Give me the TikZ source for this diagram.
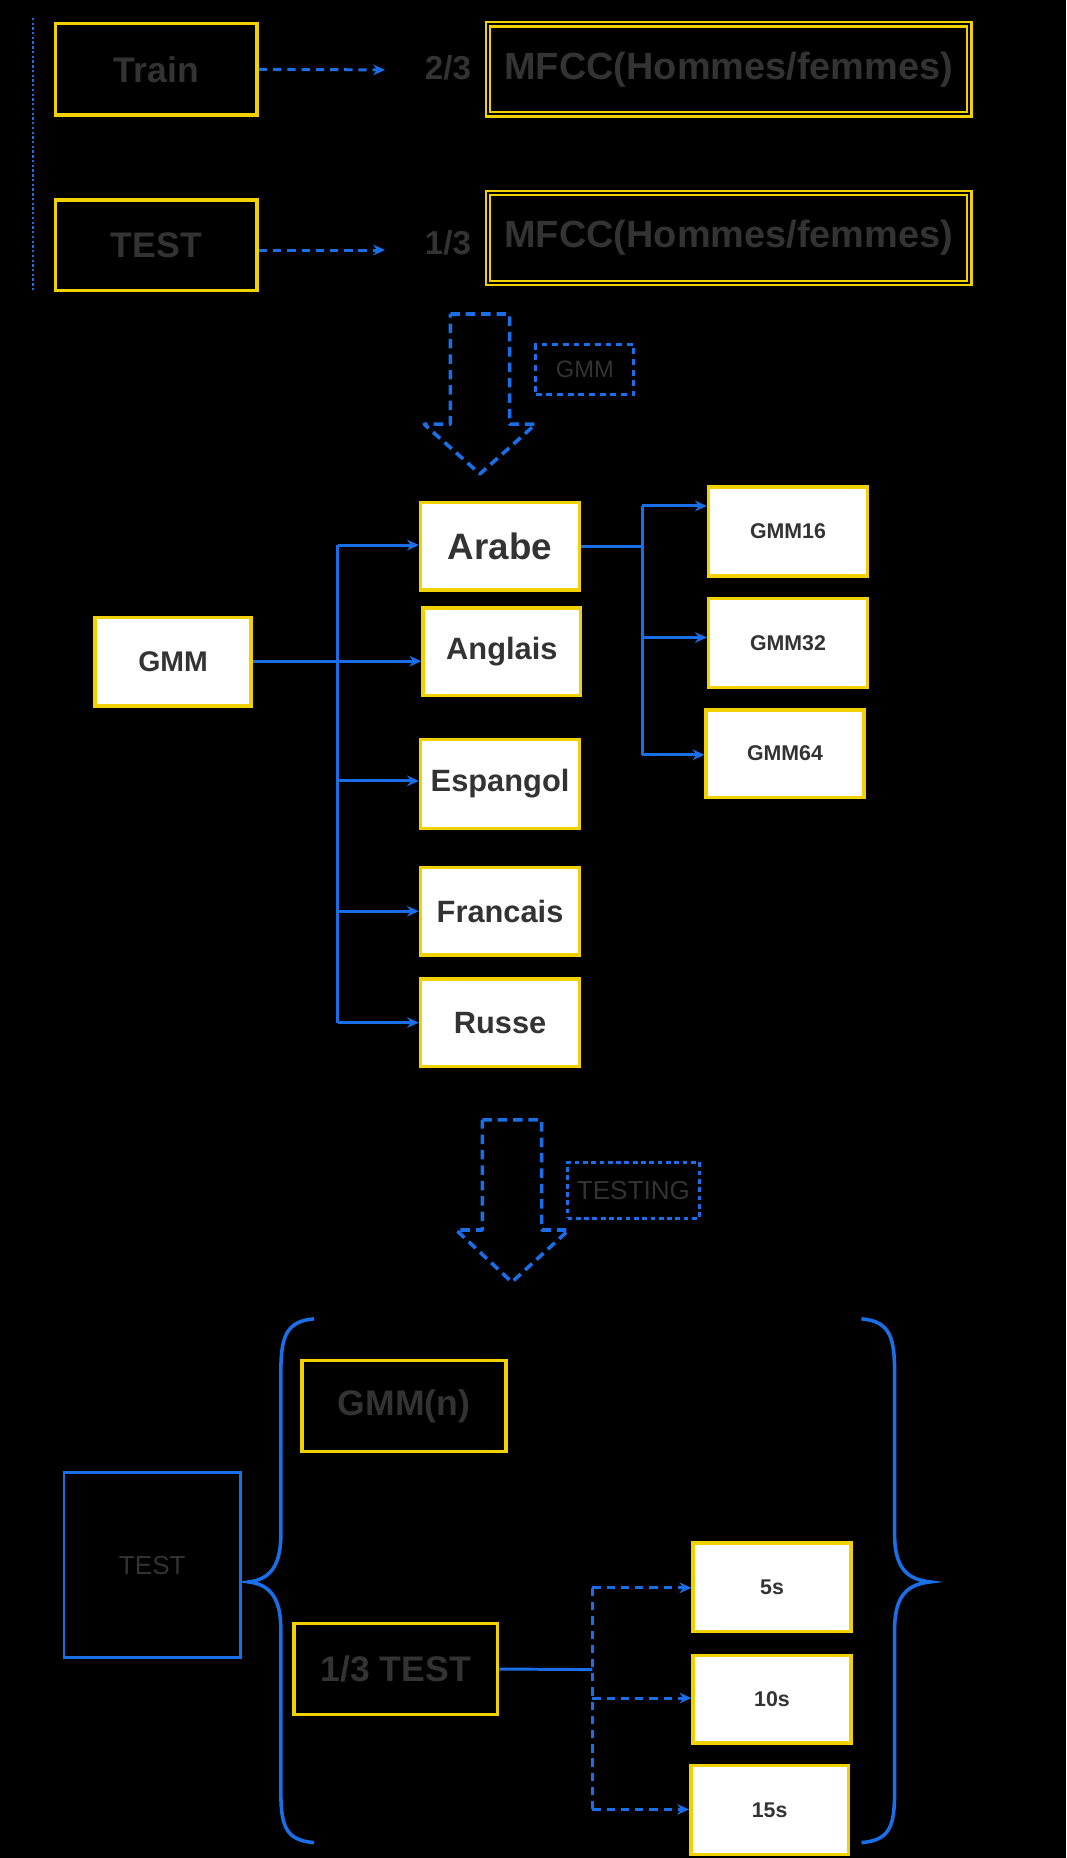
\documentclass[tikz,border=0pt]{standalone}
\usepackage{fontspec}
\setmainfont{Liberation Sans}
\usetikzlibrary{arrows.meta}
\definecolor{yel}{HTML}{F2D100}
\definecolor{blu}{HTML}{1A6FE8}
\definecolor{gry}{HTML}{333333}
\tikzset{
 fs/.style={font=\fontsize{#1}{#1}\selectfont\bfseries},
 dk/.style={draw=yel,line width=3pt,fill=black,text=gry,inner sep=0pt},
 wb/.style={draw=yel,line width=3pt,fill=white,text=gry,inner sep=0pt},
 conn/.style={draw=blu,line width=2.5pt,-{Stealth[length=10pt,width=9pt]}},
 dconn/.style={conn,dashed,dash pattern=on 7pt off 5pt},
 hol/.style={draw=blu,line width=3pt,dash pattern=on 8pt off 5pt},
}
\begin{document}
\begin{tikzpicture}[x=1pt,y=-1pt]
\fill[black] (0,0) rectangle (900,1568);
\useasboundingbox (0,0) rectangle (900,1568);
\draw[blu,line width=2pt,dotted] (28,15) -- (28,245);
% top
\node[dk,fs=30,minimum width=170pt,minimum height=77pt] (train) at (132,58.5) {Train};
\node[dk,fs=30,minimum width=170pt,minimum height=76pt] (test) at (132,207) {TEST};
\node[dk,fs=32,minimum width=406pt,minimum height=76pt,line width=2pt,double=black,double distance=1.5pt] (m1) at (615,58.5) {MFCC(Hommes/femmes)};
\node[dk,fs=32,minimum width=406pt,minimum height=76pt,line width=2pt,double=black,double distance=1.5pt] (m2) at (615,201) {MFCC(Hommes/femmes)};
\node[text=gry,fs=28] (f1) at (378,57) {2/3};
\node[text=gry,fs=28] (f2) at (378,205) {1/3};
\coordinate (e1) at (325,59); \coordinate (e2) at (325,211);
\draw[dconn] (train.east) -- (e1);
\draw[dconn] (test.east|-e2) -- (e2);
% hollow arrow 1
\draw[hol,line join=round] (380,265) -- (430,265) -- (430,358) -- (452,358) -- (405,400) -- (358,358) -- (380,358) -- cycle;
\node[draw=blu,line width=2.5pt,dash pattern=on 5pt off 4pt,fill=black,text=gry,minimum width=83pt,minimum height=42pt,inner sep=0pt,font=\fontsize{20}{20}\selectfont] (g) at (493.5,312) {GMM};
% GMM tree
\node[wb,fs=24,minimum width=132pt,minimum height=75pt] (gmm) at (146,558.5) {GMM};
\node[wb,fs=31,minimum width=134pt,minimum height=74pt] (ar) at (422,461) {Arabe};
\node[wb,fs=26,minimum width=133pt,minimum height=74pt] (an) at (423.5,550) {Anglais};
\node[wb,fs=26,minimum width=134pt,minimum height=75pt] (es) at (422,661.5) {Espangol};
\node[wb,fs=26,minimum width=134pt,minimum height=74pt] (fr) at (422,769) {Francais};
\node[wb,fs=26,minimum width=134pt,minimum height=74pt] (ru) at (422,863) {Russe};
\node[wb,fs=18,minimum width=134pt,minimum height=75pt] (g16) at (665,448.5) {GMM16};
\node[wb,fs=18,minimum width=134pt,minimum height=75pt] (g32) at (665,542.5) {GMM32};
\node[wb,fs=18,minimum width=133pt,minimum height=74pt] (g64) at (662.5,636) {GMM64};
\draw[blu,line width=2.5pt] (gmm.east) -- (285,558.5);
\draw[blu,line width=2.5pt] (285,460) -- (285,863);
\draw[conn] (285,460) -- (ar.west|-0,460);
\draw[conn] (285,558) -- (an.west|-0,558);
\draw[conn] (285,659) -- (es.west|-0,659);
\draw[conn] (285,769) -- (fr.west);
\draw[conn] (285,863) -- (ru.west);
\draw[blu,line width=2.5pt] (ar.east) -- (542,461) (542,427) -- (542,637);
\draw[conn] (542,427) -- (g16.west|-0,427);
\draw[conn] (542,538) -- (g32.west|-0,538);
\draw[conn] (542,637) -- (g64.west|-0,637);
% hollow arrow 2
\draw[hol,line join=round] (407,945) -- (457,945) -- (457,1038) -- (480,1038) -- (432,1082) -- (385,1038) -- (407,1038) -- cycle;
\node[draw=blu,line width=2.5pt,dash pattern=on 4pt off 3pt,fill=black,text=gry,minimum width=111pt,minimum height=47pt,inner sep=0pt,font=\fontsize{22}{22}\selectfont] (tg) at (534.5,1004.5) {TESTING};
% braces
\draw[blu,line width=3pt] (265,1113) .. controls (240,1115) and (237,1130) .. (237,1160) -- (237,1295) .. controls (237,1325) and (225,1333) .. (210,1335) .. controls (225,1337) and (237,1345) .. (237,1375) -- (237,1510) .. controls (237,1540) and (240,1553) .. (265,1555);
\draw[blu,line width=3pt] (727,1113) .. controls (752,1115) and (755,1130) .. (755,1160) -- (755,1295) .. controls (755,1325) and (767,1333) .. (785,1335) .. controls (767,1337) and (755,1345) .. (755,1375) -- (755,1510) .. controls (755,1540) and (752,1553) .. (727,1555);
% bottom
\node[draw=blu,line width=2.5pt,fill=black,text=gry,minimum width=149pt,minimum height=156pt,inner sep=0pt,font=\fontsize{22}{22}\selectfont] (tt) at (128.5,1321) {TEST};
\node[dk,fs=30,minimum width=172pt,minimum height=77pt] (gn) at (341,1186.5) {GMM(n)};
\node[dk,fs=30,minimum width=172pt,minimum height=77pt] (tt3) at (334,1408.5) {1/3 TEST};
\node[wb,fs=18,minimum width=133pt,minimum height=75pt] (s5) at (651.5,1339.5) {5s};
\node[wb,fs=18,minimum width=133pt,minimum height=74pt] (s10) at (651.5,1434) {10s};
\node[wb,fs=18,minimum width=133pt,minimum height=75pt] (s15) at (649.5,1527.5) {15s};
\draw[blu,line width=2.5pt] (tt3.east) -- (500,1409);
\draw[blu,line width=2.5pt,dash pattern=on 7pt off 5pt] (500,1340) -- (500,1527);
\draw[dconn] (500,1340) -- (s5.west|-0,1340);
\draw[dconn] (500,1433) -- (s10.west|-0,1433);
\draw[dconn] (500,1527) -- (s15.west|-0,1527);
\end{tikzpicture}
\end{document}
